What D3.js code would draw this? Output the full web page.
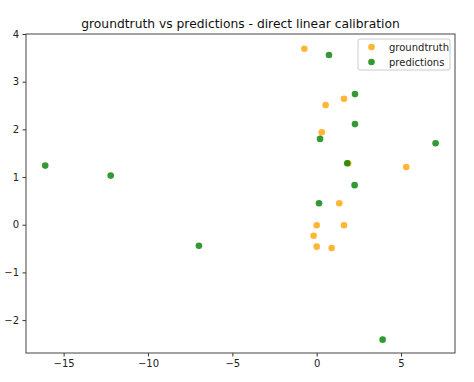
<!DOCTYPE html>
<html>
<head>
<meta charset="utf-8">
<script src="https://cdn.jsdelivr.net/npm/d3@7"></script>
<style>
  body { margin: 0; background: #fff; }
  text { font-family: "DejaVu Sans", sans-serif; }
</style>
</head>
<body>
<script>
// groundtruth points
var gtX = [-0.73, 0.53, 1.62, 0.30, 1.87, 5.31, 1.34, 0.00, 1.62, -0.18, 0.00, 0.89];
var gtY = [3.69, 2.51, 2.64, 1.94, 1.29, 1.21, 0.45, -0.01, -0.01, -0.23, -0.46, -0.49];
// predictions
var prX = [0.73, 2.27, 2.27, 0.20, -16.09, -12.21, 1.81, 7.05, 2.25, 0.14, -6.98, 3.91];
var prY = [3.56, 2.74, 2.11, 1.80, 1.24, 1.03, 1.29, 1.71, 0.83, 0.45, -0.44, -2.41];

var xTicks = [-15, -10, -5, 0, 5];
var yTicks = [-2, -1, 0, 1, 2, 3, 4];
var seriesNames = ["groundtruth", "predictions"];
var seriesColors = ["orange", "green"];

var width = 474, height = 382,
    margin = {top: 34, right: 19, bottom: 29, left: 26},
    w = width - margin.left - margin.right,
    h = height - margin.top - margin.bottom;

var svg = d3.select("body").append("svg")
    .attr("width", width)
    .attr("height", height);

var g = svg.append("g").attr("transform", "translate(" + margin.left + "," + margin.top + ")");

var x = d3.scaleLinear().domain([-17.23, 8.2]).range([0, w]);
var y = d3.scaleLinear().domain([-2.69, 4.0]).range([h, 0]);

var xAxis = g.append("g")
    .attr("transform", "translate(0," + h + ")")
    .call(d3.axisBottom(x).tickValues(xTicks).tickFormat(d3.format("d")).tickSize(3.5).tickPadding(3.5));
var yAxis = g.append("g")
    .call(d3.axisLeft(y).tickValues(yTicks).tickFormat(d3.format("d")).tickSize(3.5).tickPadding(3.5));

[xAxis, yAxis].forEach(function(a) {
  a.select(".domain").remove();
  a.selectAll(".tick line").attr("stroke", "#333");
  a.selectAll(".tick text").attr("fill", "#222").style("font-size", "10px");
});

g.append("rect")
    .attr("width", w)
    .attr("height", h)
    .attr("fill", "none")
    .attr("stroke", "#444")
    .attr("stroke-width", 1);

var series = [
  d3.zip(gtX, gtY),
  d3.zip(prX, prY)
];

series.forEach(function(pts, i) {
  g.append("g").selectAll("circle")
    .data(pts)
    .enter().append("circle")
      .attr("cx", function(d) { return x(d[0]); })
      .attr("cy", function(d) { return y(d[1]); })
      .attr("r", 3.3)
      .attr("fill", seriesColors[i])
      .attr("fill-opacity", 0.8);
});

svg.append("text")
    .attr("x", margin.left + w / 2)
    .attr("y", 28)
    .attr("text-anchor", "middle")
    .attr("fill", "#111")
    .style("font-size", "12.3px")
    .text("groundtruth vs predictions - direct linear calibration");

// legend
var lg = g.append("g").attr("transform", "translate(" + (w - 97) + ",5)");
lg.append("rect")
    .attr("width", 92)
    .attr("height", 31)
    .attr("rx", 2)
    .attr("fill", "#fff")
    .attr("fill-opacity", 0.8)
    .attr("stroke", "#ccc");
seriesNames.forEach(function(name, i) {
  lg.append("circle")
      .attr("cx", 13.5)
      .attr("cy", 8 + i * 15)
      .attr("r", 3.3)
      .attr("fill", seriesColors[i])
      .attr("fill-opacity", 0.8);
  lg.append("text")
      .attr("x", 31)
      .attr("y", 8 + i * 15)
      .attr("dy", "0.35em")
      .attr("fill", "#222")
      .style("font-size", "10px")
      .text(name);
});
</script>
</body>
</html>
